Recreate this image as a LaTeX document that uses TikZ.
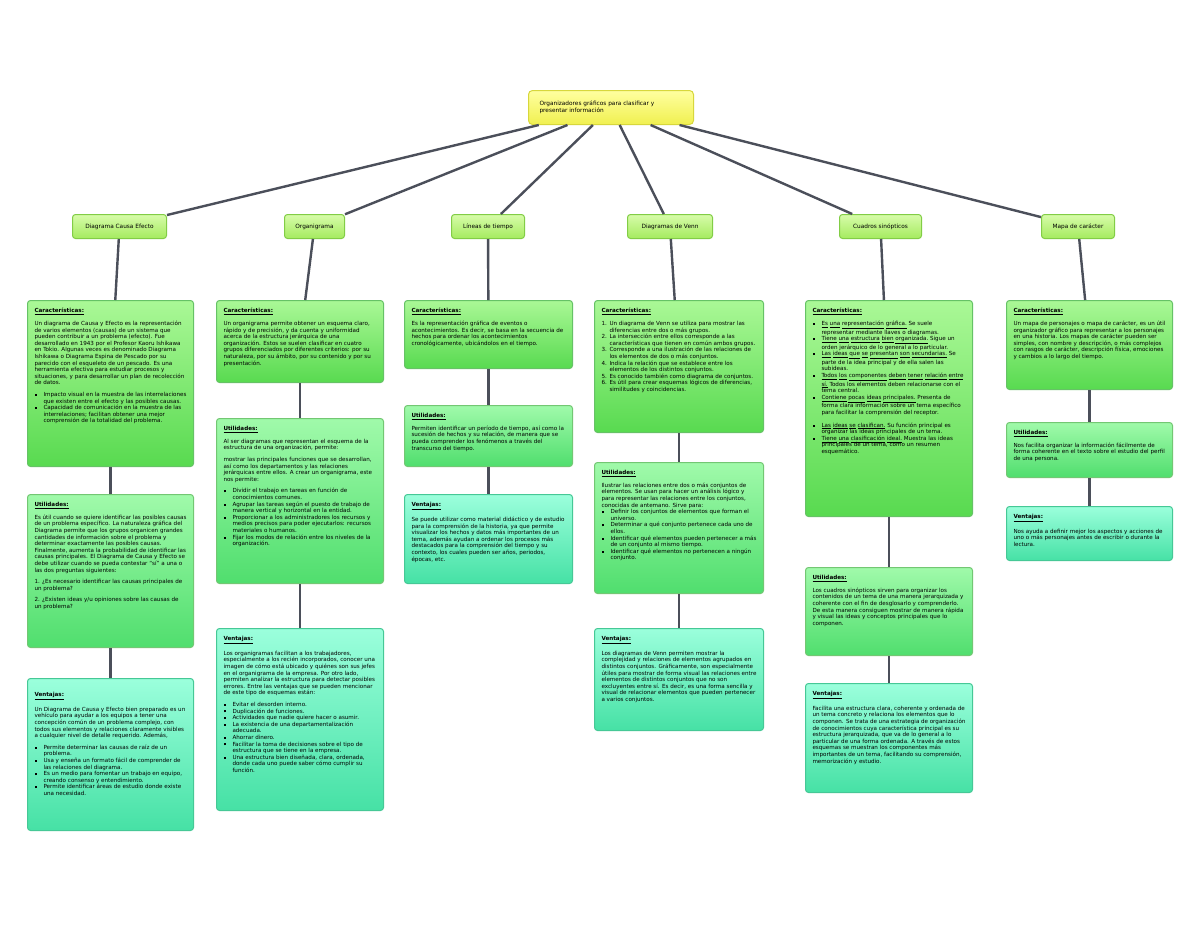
\documentclass[tikz,border=0pt]{standalone}
\usepackage{fontspec}
\setmainfont{DejaVu Sans}
\def\ulw#1 #2\ulend{\underline{#1}\ifx\relax#2\relax\else\ \ulw#2\ulend\fi}
\def\uline#1{\ulw#1 \ulend}
\definecolor{lnk}{HTML}{4B4F5A}
\tikzset{
 x=1pt,y=-1pt,
 base/.style={anchor=north west,rounded corners=3pt,line width=1pt,inner sep=0pt,align=left},
 carbox/.style={base,draw=green!60!black!60,top color={rgb,255:red,170;green,248;blue,150},bottom color={rgb,255:red,88;green,218;blue,80}},
 utilbox/.style={base,draw=green!60!black!55,top color={rgb,255:red,160;green,250;blue,170},bottom color={rgb,255:red,80;green,222;blue,110}},
 ventbox/.style={base,draw={rgb,255:red,70;green,200;blue,150},top color={rgb,255:red,155;green,255;blue,220},bottom color={rgb,255:red,70;green,225;blue,165}},
 lvl/.style={anchor=north west,rounded corners=3pt,line width=1pt,draw={rgb,255:red,130;green,205;blue,70},top color={rgb,255:red,215;green,252;blue,170},bottom color={rgb,255:red,165;green,235;blue,95},inner sep=0pt,font=\fontsize{5.8}{7}\selectfont},
 rootbox/.style={anchor=north west,rounded corners=4pt,line width=1pt,draw={rgb,255:red,215;green,215;blue,60},top color={rgb,255:red,255;green,255;blue,160},bottom color={rgb,255:red,240;green,240;blue,80},inner sep=0pt,font=\fontsize{5.8}{7}\selectfont,align=left},
 link/.style={draw=lnk,line width=2.4pt},
}
\newcommand\bt[3]{\hspace*{7pt}\parbox[t][#2pt][t]{\dimexpr#1pt-14pt\relax}{\vspace*{8pt}\fontsize{5.6}{6.6}\selectfont\raggedright #3}\hspace*{7pt}}
\newcommand\hd[1]{\uline{\textbf{#1}}\par\vspace{6pt}}
\newcommand\bitem{\par\hangindent=9pt\hangafter=1\noindent\makebox[9pt][l]{\rule[0.6pt]{2pt}{2pt}}}
\newcommand\nitem[1]{\par\hangindent=8pt\hangafter=1\noindent\makebox[8pt][l]{#1}}
\newcommand\gap{\par\vspace{5pt}\noindent}
\begin{document}
\begin{tikzpicture}
\useasboundingbox[fill=white] (0,0) rectangle (1200,927);
% root
\node[rootbox,minimum width=165pt,minimum height=34pt] (root) at (528,90) {\hspace*{7pt}\parbox{150pt}{Organizadores gráficos para clasificar y\\presentar información}};
% level 1
\node[lvl,minimum width=94pt,minimum height=24pt] (l1) at (72,214) {\makebox[94pt]{Diagrama Causa Efecto}};
\node[lvl,minimum width=60pt,minimum height=24pt] (l2) at (284,214) {\makebox[60pt]{Organigrama}};
\node[lvl,minimum width=73pt,minimum height=24pt] (l3) at (451,214) {\makebox[73pt]{Líneas de tiempo}};
\node[lvl,minimum width=85pt,minimum height=24pt] (l4) at (627,214) {\makebox[85pt]{Diagramas de Venn}};
\node[lvl,minimum width=82pt,minimum height=24pt] (l5) at (839,214) {\makebox[82pt]{Cuadros sinópticos}};
\node[lvl,minimum width=73pt,minimum height=24pt] (l6) at (1041,214) {\makebox[73pt]{Mapa de carácter}};
% column 1
\node[carbox] (c1) at (27,300) {\bt{166}{166}{\hd{Características:}Un diagrama de Causa y Efecto es la representación de varios elementos (causas) de un sistema que pueden contribuir a un problema (efecto). Fue desarrollado en 1943 por el Profesor Kaoru Ishikawa en Tokio. Algunas veces es denominado Diagrama Ishikawa o Diagrama Espina de Pescado por su parecido con el esqueleto de un pescado. Es una herramienta efectiva para estudiar procesos y situaciones, y para desarrollar un plan de recolección de datos.\gap
\bitem Impacto visual en la muestra de las interrelaciones que existen entre el efecto y las posibles causas.
\bitem Capacidad de comunicación en la muestra de las interrelaciones; facilitan obtener una mejor comprensión de la totalidad del problema.}};
\node[utilbox] (u1) at (27,494) {\bt{166}{153}{\hd{Utilidades:}Es útil cuando se quiere identificar las posibles causas de un problema específico. La naturaleza gráfica del Diagrama permite que los grupos organicen grandes cantidades de información sobre el problema y determinar exactamente las posibles causas. Finalmente, aumenta la probabilidad de identificar las causas principales. El Diagrama de Causa y Efecto se debe utilizar cuando se pueda contestar “sí” a una o las dos preguntas siguientes:\gap
1. ¿Es necesario identificar las causas principales de un problema?\gap
2. ¿Existen ideas y/u opiniones sobre las causas de un problema?}};
\node[ventbox] (v1) at (27,678) {\bt{166}{152}{\vspace*{6pt}\hd{Ventajas:}Un Diagrama de Causa y Efecto bien preparado es un vehículo para ayudar a los equipos a tener una concepción común de un problema complejo, con todos sus elementos y relaciones claramente visibles a cualquier nivel de detalle requerido. Además,\gap
\bitem Permite determinar las causas de raíz de un problema.
\bitem Usa y enseña un formato fácil de comprender de las relaciones del diagrama.
\bitem Es un medio para fomentar un trabajo en equipo, creando consenso y entendimiento.
\bitem Permite identificar áreas de estudio donde existe una necesidad.}};
% column 2
\node[carbox] (c2) at (216,300) {\bt{167}{82}{\hd{Características:}Un organigrama permite obtener un esquema claro, rápido y de precisión, y da cuenta y uniformidad acerca de la estructura jerárquica de una organización. Estos se suelen clasificar en cuatro grupos diferenciados por diferentes criterios: por su naturaleza, por su ámbito, por su contenido y por su presentación.}};
\node[utilbox] (u2) at (216,418) {\bt{167}{165}{\hd{Utilidades:}Al ser diagramas que representan el esquema de la estructura de una organización, permite:\gap
mostrar las principales funciones que se desarrollan, así como los departamentos y las relaciones jerárquicas entre ellos. A crear un organigrama, este nos permite:\gap
\bitem Dividir el trabajo en tareas en función de conocimientos comunes.
\bitem Agrupar las tareas según el puesto de trabajo de manera vertical y horizontal en la entidad.
\bitem Proporcionar a los administradores los recursos y medios precisos para poder ejecutarlos: recursos materiales o humanos.
\bitem Fijar los modos de relación entre los niveles de la organización.}};
\node[ventbox] (v2) at (216,628) {\bt{167}{182}{\hd{Ventajas:}Los organigramas facilitan a los trabajadores, especialmente a los recién incorporados, conocer una imagen de cómo está ubicado y quiénes son sus jefes en el organigrama de la empresa. Por otro lado, permiten analizar la estructura para detectar posibles errores. Entre las ventajas que se pueden mencionar de este tipo de esquemas están:\gap
\bitem Evitar el desorden interno.
\bitem Duplicación de funciones.
\bitem Actividades que nadie quiere hacer o asumir.
\bitem La existencia de una departamentalización adecuada.
\bitem Ahorrar dinero.
\bitem Facilitar la toma de decisiones sobre el tipo de estructura que se tiene en la empresa.
\bitem Una estructura bien diseñada, clara, ordenada, donde cada uno puede saber cómo cumplir su función.}};
% column 3
\node[carbox] (c3) at (404,300) {\bt{168}{68}{\hd{Características:}Es la representación gráfica de eventos o acontecimientos. Es decir, se basa en la secuencia de hechos para ordenar los acontecimientos cronológicamente, ubicándolos en el tiempo.}};
\node[utilbox] (u3) at (404,405) {\bt{168}{61}{\hd{Utilidades:}Permiten identificar un período de tiempo, así como la sucesión de hechos y su relación, de manera que se pueda comprender los fenómenos a través del transcurso del tiempo.}};
\node[ventbox] (v3) at (404,494) {\bt{168}{89}{\hd{Ventajas:}Se puede utilizar como material didáctico y de estudio para la comprensión de la historia, ya que permite visualizar los hechos y datos más importantes de un tema, además ayudan a ordenar los procesos más destacados para la comprensión del tiempo y su contexto, los cuales pueden ser años, periodos, épocas, etc.}};
% column 4
\node[carbox] (c4) at (594,300) {\bt{169}{132}{\hd{Características:}\nitem{1.}Un diagrama de Venn se utiliza para mostrar las diferencias entre dos o más grupos.
\nitem{2.}La intersección entre ellos corresponde a las características que tienen en común ambos grupos.
\nitem{3.}Corresponde a una ilustración de las relaciones de los elementos de dos o más conjuntos.
\nitem{4.}Indica la relación que se establece entre los elementos de los distintos conjuntos.
\nitem{5.}Es conocido también como diagrama de conjuntos.
\nitem{6.}Es útil para crear esquemas lógicos de diferencias, similitudes y coincidencias.}};
\node[utilbox] (u4) at (594,462) {\bt{169}{131}{\hd{Utilidades:}Ilustrar las relaciones entre dos o más conjuntos de elementos. Se usan para hacer un análisis lógico y para representar las relaciones entre los conjuntos, conocidas de antemano. Sirve para:
\bitem Definir los conjuntos de elementos que forman el universo.
\bitem Determinar a qué conjunto pertenece cada uno de ellos.
\bitem Identificar qué elementos pueden pertenecer a más de un conjunto al mismo tiempo.
\bitem Identificar qué elementos no pertenecen a ningún conjunto.}};
\node[ventbox] (v4) at (594,628) {\bt{169}{102}{\hd{Ventajas:}Los diagramas de Venn permiten mostrar la complejidad y relaciones de elementos agrupados en distintos conjuntos. Gráficamente, son especialmente útiles para mostrar de forma visual las relaciones entre elementos de distintos conjuntos que no son excluyentes entre sí. Es decir, es una forma sencilla y visual de relacionar elementos que pueden pertenecer a varios conjuntos.}};
% column 5
\node[carbox] (c5) at (805,300) {\bt{167}{216}{\hd{Características:}\bitem \uline{Es una representación gráfica.} Se suele representar mediante llaves o diagramas.
\bitem \uline{Tiene una estructura bien organizada.} Sigue un orden jerárquico de lo general a lo particular.
\bitem \uline{Las ideas que se presentan son secundarias.} Se parte de la idea principal y de ella salen las subideas.
\bitem \uline{Todos los componentes deben tener relación entre sí.} Todos los elementos deben relacionarse con el tema central.
\bitem \uline{Contiene pocas ideas principales.} Presenta de forma clara información sobre un tema específico para facilitar la comprensión del receptor.\par\vspace{6pt}
\bitem \uline{Las ideas se clasifican.} Su función principal es organizar las ideas principales de un tema.
\bitem \uline{Tiene una clasificación ideal.} Muestra las ideas principales de un tema, como un resumen esquemático.}};
\node[utilbox] (u5) at (805,567) {\bt{167}{88}{\hd{Utilidades:}Los cuadros sinópticos sirven para organizar los contenidos de un tema de una manera jerarquizada y coherente con el fin de desglosarlo y comprenderlo. De esta manera consiguen mostrar de manera rápida y visual las ideas y conceptos principales que lo componen.}};
\node[ventbox] (v5) at (805,683) {\bt{167}{109}{\hd{Ventajas:}Facilita una estructura clara, coherente y ordenada de un tema concreto y relaciona los elementos que lo componen. Se trata de una estrategia de organización de conocimientos cuya característica principal es su estructura jerarquizada, que va de lo general a lo particular de una forma ordenada. A través de estos esquemas se muestran los componentes más importantes de un tema, facilitando su comprensión, memorización y estudio.}};
% column 6
\node[carbox] (c6) at (1006,300) {\bt{166}{89}{\hd{Características:}Un mapa de personajes o mapa de carácter, es un útil organizador gráfico para representar a los personajes en una historia. Los mapas de carácter pueden ser simples, con nombre y descripción, o más complejos con rasgos de carácter, descripción física, emociones y cambios a lo largo del tiempo.}};
\node[utilbox] (u6) at (1006,422) {\bt{166}{55}{\hd{Utilidades:}Nos facilita organizar la información fácilmente de forma coherente en el texto sobre el estudio del perfil de una persona.}};
\node[ventbox] (v6) at (1006,506) {\bt{166}{54}{\hd{Ventajas:}Nos ayuda a definir mejor los aspectos y acciones de uno o más personajes antes de escribir o durante la lectura.}};
% links
\foreach \n in {l1,l2,l3,l4,l5,l6} \draw[link] (root) -- (\n);
\draw[link] (l1) -- (c1); \draw[link] (c1) -- (u1); \draw[link] (u1) -- (v1);
\draw[link] (l2) -- (c2); \draw[link] (c2) -- (u2); \draw[link] (u2) -- (v2);
\draw[link] (l3) -- (c3); \draw[link] (c3) -- (u3); \draw[link] (u3) -- (v3);
\draw[link] (l4) -- (c4); \draw[link] (c4) -- (u4); \draw[link] (u4) -- (v4);
\draw[link] (l5) -- (c5); \draw[link] (c5) -- (u5); \draw[link] (u5) -- (v5);
\draw[link] (l6) -- (c6); \draw[link] (c6) -- (u6); \draw[link] (u6) -- (v6);
\end{tikzpicture}
\end{document}
